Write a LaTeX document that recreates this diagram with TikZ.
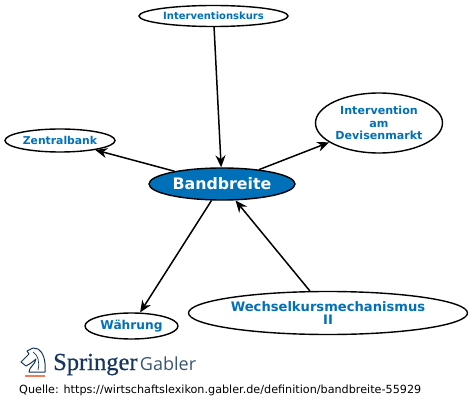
\documentclass[tikz,border=0pt]{standalone}
\usepackage{fontspec}
\setmainfont{DejaVu Sans}
\newfontfamily\springerfont[FakeBold=0.6]{Liberation Serif}
\newfontfamily\gablerfont{Open Sans}
\usepackage{tikz}
\usetikzlibrary{positioning,arrows.meta,shapes.geometric}
\definecolor{termblue}{RGB}{0,112,184}
\definecolor{logoblue}{RGB}{22,54,94}
\definecolor{logoorange}{RGB}{238,125,90}
\tikzset{
  term/.style={ellipse,draw=black,line width=1.4pt,align=center,inner sep=0pt,fill=white,text=termblue,font=\bfseries\fontsize{10.8}{12}\selectfont},
  mainterm/.style={ellipse,draw=black,line width=1.4pt,align=center,inner sep=0pt,fill=termblue,text=white,font=\bfseries\fontsize{15.8}{18}\selectfont},
  edge/.style={-{Stealth[length=12pt,width=10pt]},line width=1.5pt}
}
\begin{document}
\begin{tikzpicture}[x=1pt,y=1pt,on grid]
  \useasboundingbox (0,0) rectangle (474,-409);
  \node[mainterm,minimum width=146pt,minimum height=32pt] (bandbreite) at (222,-184) {Bandbreite};
  \node[term,minimum width=149pt,minimum height=21pt,above left=168pt and 8.5pt of bandbreite,font=\bfseries\fontsize{10}{12}\selectfont] (kurs) {Interventionskurs};
  \node[term,minimum width=127pt,minimum height=60pt,above right=61pt and 157pt of bandbreite,font=\bfseries\fontsize{11.1}{12.6}\selectfont] (markt) {Intervention\\am\\Devisenmarkt};
  \node[term,minimum width=110pt,minimum height=23pt,above left=43.5pt and 162pt of bandbreite] (zentral) {Zentralbank};
  \node[term,minimum width=93pt,minimum height=26pt,below left=142pt and 90.5pt of bandbreite,font=\bfseries\fontsize{12.2}{14}\selectfont] (waehrung) {Währung};
  \node[term,minimum width=279pt,minimum height=43pt,below right=129pt and 106pt of bandbreite,font=\bfseries\fontsize{13.1}{13.5}\selectfont] (mechanismus) {Wechselkursmechanismus\\II};
  \draw[edge] (kurs) -- (bandbreite);
  \draw[edge] (bandbreite) -- (markt);
  \draw[edge] (bandbreite) -- (zentral);
  \draw[edge] (bandbreite) -- (waehrung);
  \draw[edge] (mechanismus) -- (bandbreite);
  % logo
  \draw[logoblue,line width=1pt,line join=round] (27,-351) -- (33,-348) -- (38,-349) .. controls (43,-352) and (46,-360) .. (45,-372) -- (29,-372) .. controls (29,-367) and (35,-365) .. (36,-359) -- (31,-363) -- (26,-366) -- (21,-362) -- (29,-354) -- cycle;
  \draw[logoblue,line width=0.7pt] (33,-352) .. controls (38,-355) and (40,-362) .. (38,-370);
  \draw[logoorange,line width=1.5pt] (25,-376) -- (45,-376);
  \node[anchor=base west,inner sep=0pt,text=logoblue,font=\springerfont\fontsize{24.5}{26}\selectfont] (springer) at (53,-370) {Springer};
  \node[inner sep=0pt,text=logoblue!85,font=\gablerfont\fontsize{18}{24}\selectfont,right=2pt of springer.base east,anchor=base west] (gabler) {Gabler};
  \node[anchor=base west,inner sep=0pt,font=\fontsize{11.2}{13}\selectfont] (quelle) at (19,-393) {Quelle: https://wirtschaftslexikon.gabler.de/definition/bandbreite-55929};
\end{tikzpicture}
\end{document}
